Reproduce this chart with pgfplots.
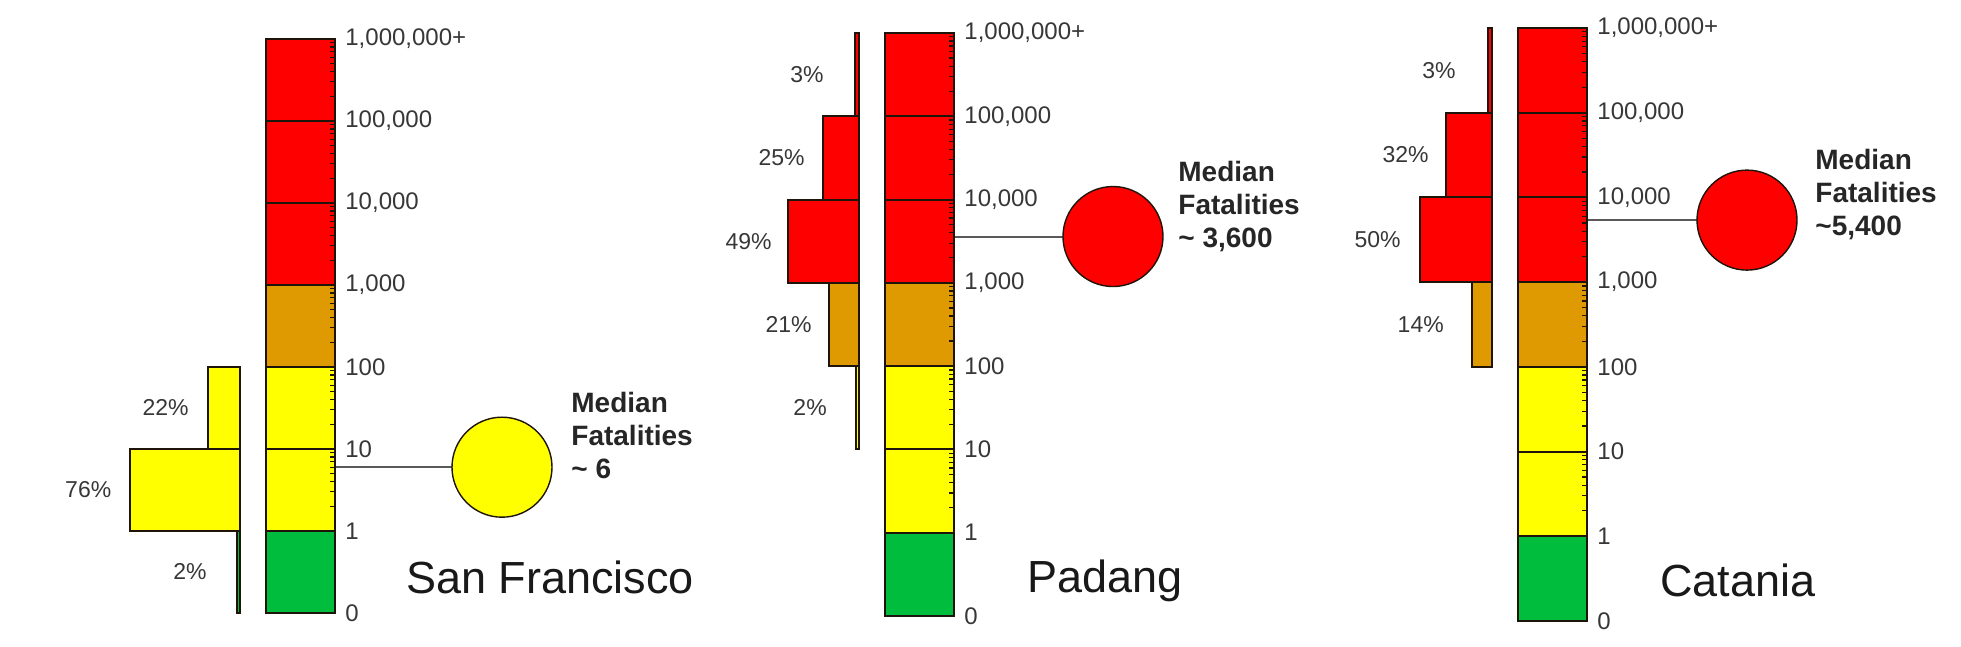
\documentclass[border=0pt]{standalone}
\usepackage{fontspec}
\setmainfont{Liberation Sans}
\usepackage{pgfplots}
\pgfplotsset{compat=1.18}
\usepackage{pgfplotstable}

\definecolor{cgreen}{RGB}{0,189,62}
\definecolor{cyellow}{RGB}{255,255,0}
\definecolor{corange}{RGB}{222,154,0}
\definecolor{cred}{RGB}{255,0,0}
\definecolor{edge}{RGB}{30,20,10}
\definecolor{txt}{RGB}{55,55,55}

% fatality histograms: bin centre (0=0-1, 1=1-10, ...), percent, label x
\pgfplotstableread{
bin pct lx
0.5 2  -22.8
1.5 76 -88.5
2.5 22 -35.2
}\histSF
\pgfplotstableread{
bin pct lx
2.5 2  -22
3.5 21 -32.4
4.5 49 -60
5.5 25 -37.2
6.5 3  -24.1
}\histPD
\pgfplotstableread{
bin pct lx
3.5 14 -33
4.5 50 -62.8
5.5 32 -43.4
6.5 3  -24.8
}\histCT

% median fatalities (x in px from the left edge of the colour bar)
\pgfplotstableread{
x med
69 6
236 6
}\medSF
\pgfplotstableread{
x med
69 3600
228 3600
}\medPD
\pgfplotstableread{
x med
69 5400
229 5400
}\medCT

\pgfplotsset{
  cbar/.style={
    scale only axis, width=34.5pt, xmin=0, xmax=69, ymin=0, ymax=7, clip=false,
    axis on top,
    axis line style={draw=edge, line width=1pt},
    xtick=\empty, ytick={0,...,7}, ytick pos=right, yticklabel pos=right,
    yticklabels={0,1,10,100,{1,000},{10,000},{100,000},{1,000,000+}},
    yticklabel style={font=\fontsize{12}{14}\selectfont, text=txt, inner sep=0pt, xshift=5pt},
    major tick length=0pt, minor tick length=2.5pt, tick align=inside,
    tick style={draw=edge, line width=0.6pt},
    minor ytick={1.30103,1.47712,1.60206,1.69897,1.77815,1.84510,1.90309,1.95424,
                 2.30103,2.47712,2.60206,2.69897,2.77815,2.84510,2.90309,2.95424,
                 3.30103,3.47712,3.60206,3.69897,3.77815,3.84510,3.90309,3.95424,
                 4.30103,4.47712,4.60206,4.69897,4.77815,4.84510,4.90309,4.95424,
                 5.30103,5.47712,5.60206,5.69897,5.77815,5.84510,5.90309,5.95424,
                 6.30103,6.47712,6.60206,6.69897,6.77815,6.84510,6.90309,6.95424},
  },
  hist/.style={scale only axis, width=72.5pt, xmin=-100, xmax=0, ymin=0, ymax=7,
    hide axis, clip=false},
  bin/.style={xbar, bar width=1, draw=edge, line width=1pt, fill=#1},
  pctlab/.style={draw=none, mark=none, point meta=explicit symbolic,
    nodes near coords={\pgfplotspointmeta\%},
    nodes near coords style={anchor=east, inner sep=0pt, text=txt,
      font=\fontsize{11.5}{14}\selectfont}},
  medline/.style={draw=black!65, line width=1pt},
  medmark/.style={only marks, mark=*, mark size=25pt, restrict x to domain=100:400,
    mark options={fill=#1, draw=edge, line width=0.7pt}},
}
\newcommand\colourbar{%
  \addplot[bin=cgreen]  coordinates {(69,0.5)};
  \addplot[bin=cyellow] coordinates {(69,1.5) (69,2.5)};
  \addplot[bin=corange] coordinates {(69,3.5)};
  \addplot[bin=cred]    coordinates {(69,4.5) (69,5.5) (69,6.5)};
}
\tikzset{
  medtext/.style={anchor=north west, align=left, inner sep=0pt, text=black!85,
    font=\fontsize{14}{16.5}\selectfont\bfseries},
  city/.style={anchor=base west, inner sep=0pt, text=black!90,
    font=\fontsize{22.5}{26}\selectfont},
}

\begin{document}
\begin{tikzpicture}
\path[use as bounding box] (0,0) rectangle (980.5pt,-323.5pt);

% ---------------- San Francisco
\begin{axis}[hist, at={(120pt,-306.5pt)}, anchor=south east, height=287pt]
  \addplot[bin=cgreen,  restrict y to domain=0:1] table[x expr=-\thisrow{pct}, y=bin] {\histSF};
  \addplot[bin=cyellow, restrict y to domain=1:3] table[x expr=-\thisrow{pct}, y=bin] {\histSF};
  \addplot[pctlab] table[x=lx, y=bin, meta=pct] {\histSF};
\end{axis}
\begin{axis}[cbar, at={(133pt,-306.5pt)}, anchor=south west, height=287pt]
  \colourbar
  \addplot[medline] table[x=x, y expr=1+ln(\thisrow{med})/ln(10)] {\medSF};
  \addplot[medmark=cyellow] table[x=x, y expr=1+ln(\thisrow{med})/ln(10)] {\medSF};
  \node[medtext, yshift=37.5pt] at (axis cs:305,1.778) {Median\\Fatalities\\\textasciitilde{} 6};
  \node[city, yshift=10pt] at (axis cs:140,0) {San Francisco};
\end{axis}

% ---------------- Padang
\begin{axis}[hist, at={(429.5pt,-308pt)}, anchor=south east, height=291.5pt]
  \addplot[bin=cyellow, restrict y to domain=1:3] table[x expr=-\thisrow{pct}, y=bin] {\histPD};
  \addplot[bin=corange, restrict y to domain=3:4] table[x expr=-\thisrow{pct}, y=bin] {\histPD};
  \addplot[bin=cred,    restrict y to domain=4:7] table[x expr=-\thisrow{pct}, y=bin] {\histPD};
  \addplot[pctlab] table[x=lx, y=bin, meta=pct] {\histPD};
\end{axis}
\begin{axis}[cbar, at={(442.5pt,-308pt)}, anchor=south west, height=291.5pt]
  \colourbar
  \addplot[medline] table[x=x, y expr=1+ln(\thisrow{med})/ln(10)] {\medPD};
  \addplot[medmark=cred] table[x=x, y expr=1+ln(\thisrow{med})/ln(10)] {\medPD};
  \node[medtext, yshift=38pt] at (axis cs:293,4.556) {Median\\Fatalities\\\textasciitilde{} 3,600};
  \node[city, yshift=12pt] at (axis cs:142,0) {Padang};
\end{axis}

% ---------------- Catania
\begin{axis}[hist, at={(746pt,-310.5pt)}, anchor=south east, height=296.5pt]
  \addplot[bin=corange, restrict y to domain=3:4] table[x expr=-\thisrow{pct}, y=bin] {\histCT};
  \addplot[bin=cred,    restrict y to domain=4:7] table[x expr=-\thisrow{pct}, y=bin] {\histCT};
  \addplot[pctlab] table[x=lx, y=bin, meta=pct] {\histCT};
\end{axis}
\begin{axis}[cbar, at={(759pt,-310.5pt)}, anchor=south west, height=296.5pt]
  \colourbar
  \addplot[medline] table[x=x, y expr=1+ln(\thisrow{med})/ln(10)] {\medCT};
  \addplot[medmark=cred] table[x=x, y expr=1+ln(\thisrow{med})/ln(10)] {\medCT};
  \node[medtext, yshift=35.5pt] at (axis cs:297,4.732) {Median\\Fatalities\\\textasciitilde5,400};
  \node[city, yshift=12.5pt] at (axis cs:142,0) {Catania};
\end{axis}
\end{tikzpicture}
\end{document}
